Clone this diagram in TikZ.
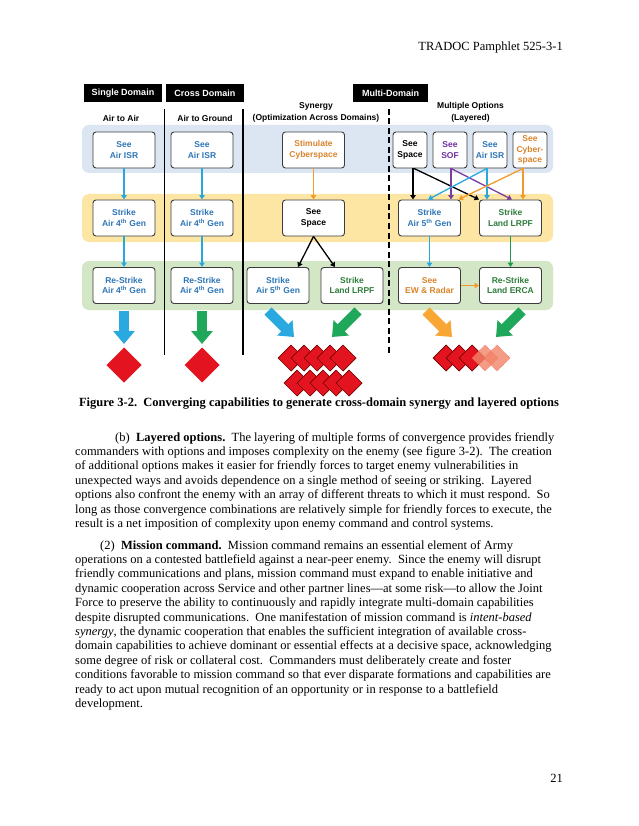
\documentclass[tikz,border=0pt]{standalone}
\usepackage{fontspec}
\setmainfont{Liberation Serif}
\newfontfamily\diagsans{Liberation Sans}
\usetikzlibrary{arrows.meta}
\definecolor{bandblue}{HTML}{DCE6F2}
\definecolor{bandyellow}{HTML}{FDE6A4}
\definecolor{bandgreen}{HTML}{D3E6C6}
\definecolor{txtblue}{HTML}{2E75B6}
\definecolor{lnblue}{HTML}{29A8E0}
\definecolor{txtorange}{HTML}{D9842C}
\definecolor{lnorange}{HTML}{F39A2B}
\definecolor{txtpurple}{HTML}{7030A0}
\definecolor{lnpurple}{HTML}{7B3D9E}
\definecolor{txtgreen}{HTML}{2E7D3C}
\definecolor{lngreen}{HTML}{1F9A4B}
\definecolor{blkblue}{HTML}{2AA9E0}
\definecolor{blkgreen}{HTML}{20A85A}
\definecolor{blkorange}{HTML}{F8A634}
\definecolor{dred}{HTML}{E3141F}
\definecolor{salmonc}{HTML}{F28468}
\definecolor{boxline}{HTML}{3C3C3C}
\newcommand\dmd[4]{\path[#4] (#1,#2-#3) -- (#1+#3,#2) -- (#1,#2+#3) -- (#1-#3,#2) -- cycle;}
\begin{document}
\begin{tikzpicture}[x=1pt,y=-1pt,
  box/.style={draw=boxline, line width=0.9pt, rounded corners=3pt, fill=white,
    minimum width=62pt, minimum height=36pt, inner sep=1pt, align=center,
    font=\diagsans\bfseries\fontsize{8.5}{10.5}\selectfont},
  sbox/.style={box, minimum width=34pt},
  tab/.style={fill=black, text=white, minimum height=18pt, inner sep=0pt,
    font=\diagsans\bfseries\fontsize{9}{10}\selectfont},
  hdr/.style={inner sep=0pt, align=center, font=\diagsans\bfseries\fontsize{8.5}{12}\selectfont},
  sepline/.style={line width=1.6pt, black},
  conn/.style={line width=1.3pt, -{Triangle[width=5.5pt,length=4.5pt]}},
  blk/.style={line width=10pt, -{Triangle[width=21pt,length=13pt]}},
  txt/.style={anchor=base west, inner sep=0pt, font=\fontsize{12.5}{14.4}\selectfont},
  rdia/.style={fill=dred, draw=red!45!black, line width=0.7pt},
  sdia/.style={fill=salmonc, fill opacity=0.8, draw=salmonc!80!red, densely dotted, line width=0.6pt}
]
\useasboundingbox[fill=white] (0,0) rectangle (638,826);

% page header
\node[txt, anchor=base east] (pghead) at (563,51) {TRADOC Pamphlet 525-3-1};

% bands
\fill[bandblue, rounded corners=7pt] (82,125) rectangle (553,173);
\fill[bandyellow, rounded corners=7pt] (82,194) rectangle (553,242);
\fill[bandgreen, rounded corners=7pt] (82,261) rectangle (553,310);

% separators
\draw[sepline] (164.5,109) -- (164.5,355);
\draw[sepline] (243,109) -- (243,355);
\draw[sepline, dash pattern=on 6pt off 3.5pt] (389,109) -- (389,355);

% tabs
\node[tab, minimum width=78pt] (tsd) at (123,93) {Single Domain};
\node[tab, minimum width=78pt] (tcd) at (205,93) {Cross Domain};
\node[tab, minimum width=75pt] (tmd) at (390.5,93) {Multi-Domain};

% column headers
\node[hdr] (h1) at (121,118) {Air to Air};
\node[hdr] (h2) at (205,118) {Air to Ground};
\node[hdr] (h3) at (316,112) {Synergy\\(Optimization Across Domains)};
\node[hdr] (h4) at (470.5,112) {Multiple Options\\(Layered)};

% row 1
\node[box, text=txtblue] (a1) at (124,150) {See\\Air ISR};
\node[box, text=txtblue] (c1) at (202,150) {See\\Air ISR};
\node[box, text=txtorange] (s1) at (313.5,150) {Stimulate\\Cyberspace};
\node[sbox, text=black] (mspace) at (410,150) {See\\Space};
\node[sbox, text=txtpurple] (msof) at (450,150) {See\\SOF};
\node[sbox, text=txtblue] (misr) at (490,150) {See\\Air ISR};
\node[sbox, text=txtorange] (mcyb) at (530,150) {See\\Cyber-\\space};

% row 2
\node[box, text=txtblue] (a2) at (124,218) {Strike\\Air 4\textsuperscript{th} Gen};
\node[box, text=txtblue] (c2) at (202,218) {Strike\\Air 4\textsuperscript{th} Gen};
\node[box, text=black] (s2) at (313.5,218) {See\\Space};
\node[box, text=txtblue] (mstr5) at (429.5,218) {Strike\\Air 5\textsuperscript{th} Gen};
\node[box, text=txtgreen] (mlrpf) at (510.5,218) {Strike\\Land LRPF};

% row 3
\node[box, text=txtblue] (a3) at (124,285.5) {Re-Strike\\Air 4\textsuperscript{th} Gen};
\node[box, text=txtblue] (c3) at (202,285.5) {Re-Strike\\Air 4\textsuperscript{th} Gen};
\node[box, text=txtblue] (s3a) at (278,285.5) {Strike\\Air 5\textsuperscript{th} Gen};
\node[box, text=txtgreen] (s3b) at (352,285.5) {Strike\\Land LRPF};
\node[box, text=txtorange] (mew) at (429.5,285.5) {See\\EW \& Radar};
\node[box, text=txtgreen] (merca) at (510.5,285.5) {Re-Strike\\Land ERCA};

% connectors
\draw[conn, lnblue] (a1) -- (a2);
\draw[conn, lnblue] (a2) -- (a3);
\draw[conn, lnblue] (c1) -- (c2);
\draw[conn, lnblue] (c2) -- (c3);
\draw[conn, lnorange] (s1) -- (s2);
\draw[conn, black] (s2.south) -- ([xshift=20pt]s3a.north);
\draw[conn, black] (s2.south) -- ([xshift=-17pt]s3b.north);

\draw[conn, black] ([xshift=3pt]mspace.south) -- ([xshift=-16.5pt]mstr5.north);
\draw[conn, black] ([xshift=4pt]mspace.south) -- (mlrpf.north west);
\draw[conn, lnpurple] ([xshift=1pt]msof.south) -- ([xshift=21.5pt]mstr5.north);
\draw[conn, lnpurple] ([xshift=1pt]msof.south) -- ([xshift=1.5pt]mlrpf.north);
\draw[conn, lnblue] ([xshift=-3pt]misr.south) -- ([xshift=-23.5pt]mlrpf.north);
\draw[conn, lnblue] ([xshift=-3pt]misr.south) -- ([xshift=-1.5pt]mstr5.north);
\draw[conn, lnorange] ([xshift=-7pt]mcyb.south) -- ([xshift=12.5pt]mlrpf.north);
\draw[conn, lnorange] ([xshift=-7pt]mcyb.south) -- ([xshift=29pt]mstr5.north);

\draw[conn, lnblue] (mstr5) -- (mew);
\draw[conn, lngreen] (mlrpf) -- (merca);
\draw[conn, lnorange] (mew) -- (merca);

% block arrows
\coordinate (b1s) at (124,311); \coordinate (b1e) at (124,344);
\coordinate (b2s) at (202,311); \coordinate (b2e) at (202,344);
\coordinate (b3s) at (268,311); \coordinate (b3e) at (294,337);
\coordinate (b4s) at (358,311); \coordinate (b4e) at (332,337);
\coordinate (b5s) at (426,311); \coordinate (b5e) at (452,337);
\coordinate (b6s) at (522,311); \coordinate (b6e) at (496,337);
\draw[blk, blkblue] (b1s) -- (b1e);
\draw[blk, blkgreen] (b2s) -- (b2e);
\draw[blk, blkblue] (b3s) -- (b3e);
\draw[blk, blkgreen] (b4s) -- (b4e);
\draw[blk, blkorange] (b5s) -- (b5e);
\draw[blk, blkgreen] (b6s) -- (b6e);

% targets
\dmd{124}{365}{17.5}{fill=dred}
\dmd{202}{365}{17.5}{fill=dred}
\foreach \x in {291,304,317,330,343} {\dmd{\x}{358}{13}{rdia}}
\foreach \x in {297,310,323,336,349} {\dmd{\x}{383}{13}{rdia}}
\foreach \x in {446,459,472} {\dmd{\x}{358}{13}{rdia}}
\foreach \x in {485,497} {\dmd{\x}{358}{13}{sdia}}

% caption
\node[txt, anchor=base, font=\bfseries\fontsize{12.5}{14.4}\selectfont] (cap) at (319,406)
  {Figure 3-2.\ \ Converging capabilities to generate cross-domain synergy and layered options};

% paragraph (b)
\node[txt] (pb1) at (115,441) {(b)\ \ \textbf{Layered options.}\ \ The layering of multiple forms of convergence provides friendly};
\node[txt] (pb2) at (75,455.4) {commanders with options and imposes complexity on the enemy (see figure 3-2).\ \ The creation};
\node[txt] (pb3) at (75,469.8) {of additional options makes it easier for friendly forces to target enemy vulnerabilities in};
\node[txt] (pb4) at (75,484.2) {unexpected ways and avoids dependence on a single method of seeing or striking.\ \ Layered};
\node[txt] (pb5) at (75,498.6) {options also confront the enemy with an array of different threats to which it must respond.\ \ So};
\node[txt] (pb6) at (75,513) {long as those convergence combinations are relatively simple for friendly forces to execute, the};
\node[txt] (pb7) at (75,527.4) {result is a net imposition of complexity upon enemy command and control systems.};

% paragraph (2)
\node[txt] (pm1) at (100,549) {(2)\ \ \textbf{Mission command.}\ \ Mission command remains an essential element of Army};
\node[txt] (pm2) at (75,563.4) {operations on a contested battlefield against a near-peer enemy.\ \ Since the enemy will disrupt};
\node[txt] (pm3) at (75,577.8) {friendly communications and plans, mission command must expand to enable initiative and};
\node[txt] (pm4) at (75,592.2) {dynamic cooperation across Service and other partner lines—at some risk—to allow the Joint};
\node[txt] (pm5) at (75,606.6) {Force to preserve the ability to continuously and rapidly integrate multi-domain capabilities};
\node[txt] (pm6) at (75,621) {despite disrupted communications.\ \ One manifestation of mission command is \textit{intent-based}};
\node[txt] (pm7) at (75,635.4) {\textit{synergy}, the dynamic cooperation that enables the sufficient integration of available cross-};
\node[txt] (pm8) at (75,649.8) {domain capabilities to achieve dominant or essential effects at a decisive space, acknowledging};
\node[txt] (pm9) at (75,664.2) {some degree of risk or collateral cost.\ \ Commanders must deliberately create and foster};
\node[txt] (pm10) at (75,678.6) {conditions favorable to mission command so that ever disparate formations and capabilities are};
\node[txt] (pm11) at (75,693) {ready to act upon mutual recognition of an opportunity or in response to a battlefield};
\node[txt] (pm12) at (75,707.4) {development.};

% page number
\node[txt, anchor=base east] (pgnum) at (563,782) {21};
\end{tikzpicture}
\end{document}
